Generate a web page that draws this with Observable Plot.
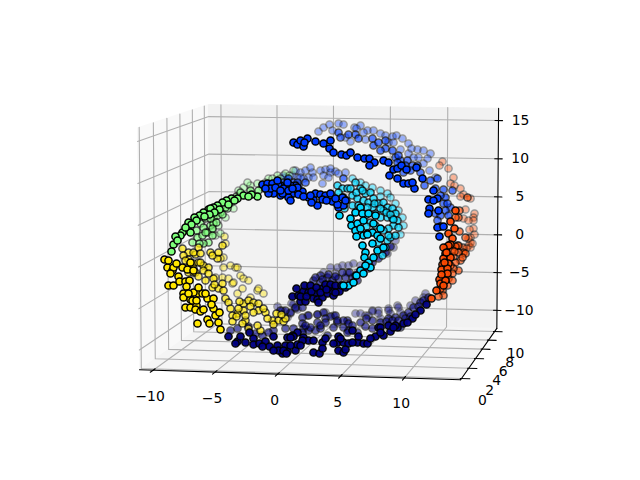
<!DOCTYPE html>
<html><head><meta charset="utf-8">
<style>html,body{margin:0;padding:0;background:#fff}svg{display:block}</style>
<script src="https://cdn.jsdelivr.net/npm/d3@7"></script>
<script src="https://cdn.jsdelivr.net/npm/@observablehq/plot@0.6"></script>
</head><body><div id="c"></div>
<script>
const xTicks=[-10,-5,0,5,10], yTicks=[0,2,4,6,8,10], zTicks=[-10,-5,0,5,10,15];
const xLim=[-11.1,14.4], yLim=[-0.25,10.75], zLim=[-12.4,16.6];
const clusterNames=["band0","band1","band2","band3","band4","band5"];
const clusterColors=["#000080","#003cff","#00d5ff","#7dff7a","#ffe600","#ff4a00"];

// point positions, in view coordinates, grouped by depth along the roll's axis
const orangeFar=[[442,161],[439,165],[448,168],[453,177],[450,183],[454,185],[460,188],[463,194],[470,198],[460,196],[474,213],[473,217],[473,220],[473,228],[469,229],[474,234],[470,237],[465,209],[463,218],[468,220],[470,242],[468,245],[470,247],[463,247],[462,247],[468,238],[472,243],[466,248]];
const orangeMid=[[467,197],[459,210],[458,217],[455,217],[459,231],[465,237],[463,252],[465,253],[457,245],[458,245],[455,246],[460,260],[455,262],[452,250],[458,270],[453,268],[452,273],[448,278],[447,256],[453,256],[458,252],[454,251],[462,257],[450,265],[445,275],[442,290],[447,285],[452,280],[440,288],[443,295],[438,296]];
const orangeNear=[[455,210],[450,221],[454,228],[448,233],[452,238],[446,247],[450,244],[448,245],[443,247],[445,253],[443,258],[442,264],[441,269],[439,279],[440,283],[436,290],[431,298],[450,257],[448,263],[447,268],[447,273],[445,280],[443,285],[441,274],[444,262],[446,252]];
const blueFar=[[323,127],[318,131],[329,124],[338,123],[343,124],[354,127],[360,125],[367,130],[363,132],[332,130],[345,137],[350,141],[365,139],[380,133],[385,135],[392,136],[388,142],[393,142],[402,138],[408,143],[400,149],[408,153],[417,149],[423,150],[430,153],[427,158],[418,157],[413,157],[423,163],[429,170],[435,177],[300,172],[305,170],[312,172],[308,177],[313,177],[320,170],[325,169],[330,172],[335,171],[338,173],[323,175],[328,177],[322,183],[303,178],[297,177],[292,175],[285,177],[283,175],[300,177],[295,170],[310,167],[330,168],[345,172],[356,128],[373,130],[396,135],[411,148]];
const blueMid=[[338,132],[355,134],[358,138],[372,138],[373,145],[385,140],[385,148],[395,157],[400,160],[407,160],[412,165],[417,165],[397,162],[403,172],[430,180],[437,178],[443,189],[435,188],[445,197],[452,190],[443,203],[450,207],[435,213],[445,210],[283,182],[288,178],[293,182],[298,185],[305,182],[343,178],[297,182],[340,137],[348,134],[378,142],[380,150],[392,150],[398,155],[405,165],[410,170],[420,172],[424,185],[440,195],[447,203],[440,215],[448,215],[437,220]];
const blueNear=[[293,142],[297,144],[300,140],[303,146],[307,138],[304,142],[315,141],[323,143],[330,140],[329,148],[333,152],[341,154],[346,155],[350,152],[357,157],[364,158],[369,158],[374,162],[369,165],[383,160],[388,162],[389,175],[393,169],[397,168],[401,165],[397,178],[406,169],[403,183],[408,183],[414,188],[412,182],[416,167],[422,178],[428,199],[433,190],[437,198],[433,200],[429,208],[428,213],[438,210],[440,226],[437,227],[439,236],[443,226],[280,195],[285,193],[289,197],[293,193],[297,190],[302,191],[295,185],[290,185],[285,188],[280,185],[308,197],[313,199],[317,205],[311,202],[315,193],[320,194],[325,195],[330,193],[322,199],[332,201],[338,207],[343,205],[337,204],[342,197],[262,184],[267,183],[273,193],[268,193],[278,185],[283,188],[288,197],[282,193],[297,187],[272,183],[287,182],[277,180],[270,188],[275,187],[280,190],[288,190],[292,188],[298,194],[303,196],[265,188],[290,200],[310,195],[326,200],[335,198],[345,200]];
const cyanFar=[[360,182],[352,178],[365,185],[372,187],[380,190],[387,193],[390,197],[380,196],[395,203],[398,210],[402,217],[403,225],[400,234]];
const cyanMid=[[337,185],[342,188],[347,188],[355,182],[360,188],[365,193],[370,192],[338,192],[343,197],[352,195],[357,198],[363,200],[368,202],[373,198],[378,203],[383,202],[387,207],[392,208],[395,213],[397,220],[393,225],[388,228],[383,210],[380,217],[387,217],[375,213],[392,218],[398,227],[372,207],[367,207],[387,240],[390,237],[395,235],[385,247],[382,255],[350,188],[356,192],[362,190],[374,203],[380,208],[386,212],[390,214],[393,219],[375,225],[383,230],[388,235],[378,242],[370,222],[366,226],[352,205],[346,200],[344,208],[358,205],[365,215]];
const cyanNear=[[339,215],[350,218],[351,225],[357,223],[360,207],[355,212],[362,213],[368,213],[355,230],[360,228],[363,235],[356,236],[367,233],[373,223],[372,232],[377,235],[380,228],[363,220],[375,215],[362,245],[367,234],[365,252],[364,257],[368,262],[373,257],[377,250],[383,247],[380,238],[372,243],[370,267],[365,265],[360,270],[356,275],[348,285],[343,285],[353,282],[363,273]];
const navyFar=[[395,240],[393,247],[387,253],[330,267],[337,267],[342,265],[348,265],[353,263],[360,265],[323,272],[335,273],[347,272],[357,272],[355,313],[360,313],[365,315],[372,310],[378,310],[388,308],[397,305],[390,313],[400,312],[368,315],[380,318],[415,300],[410,305],[425,293],[423,297],[277,306],[282,310],[290,313],[297,309],[307,315],[317,314],[325,312],[333,315],[293,304],[372,311],[378,313],[388,310],[398,307],[291,303],[295,308],[287,317]];
const navyMid=[[327,277],[320,275],[332,280],[338,278],[345,277],[352,277],[313,280],[320,282],[350,283],[357,280],[323,312],[317,314],[330,316],[308,315],[302,317],[290,312],[295,307],[302,307],[285,310],[280,310],[335,315],[325,318],[337,322],[348,330],[343,327],[303,328],[308,330],[315,330],[320,328],[317,322],[325,322],[337,320],[347,320],[302,323],[343,320],[348,323],[372,320],[388,318],[395,317],[403,315],[408,312],[413,307],[420,302],[237,328],[255,333],[273,330],[293,328],[302,332],[310,327],[327,335],[347,332],[357,332],[315,277],[322,279],[328,274],[335,276],[342,272],[349,272],[355,275],[362,270],[368,268],[372,262],[378,258],[385,252],[390,246],[305,290],[365,326],[372,328],[380,322],[386,321],[392,320],[398,320],[405,318],[410,316],[418,306],[423,300],[428,297],[400,327],[230,330],[248,326],[262,335],[268,332],[285,328],[305,325],[320,325],[333,327],[352,325],[360,322],[366,318]];
const navyNear=[[292,296],[298,295],[300,301],[305,301],[303,291],[304,285],[310,285],[313,298],[317,299],[322,297],[327,293],[333,295],[332,290],[339,291],[308,292],[315,292],[322,288],[328,287],[297,332],[292,335],[287,337],[303,337],[308,340],[313,340],[338,336],[337,342],[343,342],[338,350],[343,352],[348,343],[357,342],[363,343],[367,343],[375,336],[383,335],[390,331],[397,327],[403,323],[412,318],[420,310],[426,304],[313,352],[319,353],[322,342],[322,348],[285,345],[287,351],[282,353],[293,336],[340,338],[352,330],[358,336],[228,336],[237,341],[235,343],[240,336],[249,332],[253,338],[253,344],[259,343],[265,341],[269,346],[277,345],[278,350],[283,350],[286,353],[295,350],[297,344],[345,349],[273,336],[290,337],[302,340],[407,322],[415,314],[378,327],[380,327],[395,325],[388,325],[296,288],[300,296],[306,296],[311,291],[316,287],[320,292],[325,284],[330,284],[335,285],[341,285],[345,287],[326,289],[318,302],[335,292],[245,342],[262,346],[273,350],[290,345],[300,345],[325,338],[333,343],[352,342],[370,338],[380,332],[393,327]];
const yellowFar=[[223,257],[230,265],[235,267],[240,275],[243,278],[248,280],[222,277],[228,278],[232,283],[237,293],[242,288],[257,290],[263,293],[250,297],[224,236],[225,243],[220,258],[237,267],[223,267],[215,277],[233,282],[258,288]];
const yellowMid=[[188,252],[195,254],[188,259],[193,263],[198,262],[203,265],[208,267],[210,252],[217,258],[213,278],[212,287],[218,288],[223,290],[225,298],[228,302],[230,308],[237,313],[243,310],[245,320],[232,315],[232,321],[238,308],[243,303],[248,300],[253,302],[258,303],[258,310],[265,312],[263,308],[272,320],[278,320],[283,321],[273,324],[285,318],[260,330],[248,328],[257,325],[245,315],[182,248],[183,255],[193,252],[198,247],[200,253],[185,260],[200,262],[188,267],[193,268],[188,272],[193,272],[203,270],[212,255],[218,252],[222,245],[205,280],[208,273],[214,284],[222,283],[239,301],[236,316],[250,306],[267,318],[276,313],[281,314],[242,323],[253,312],[195,272],[198,276]];
const yellowNear=[[164,259],[167,267],[172,270],[168,285],[173,285],[178,276],[179,281],[185,281],[189,280],[183,293],[183,297],[190,299],[185,307],[190,307],[196,305],[195,309],[200,311],[197,323],[207,319],[209,323],[213,308],[215,315],[218,322],[220,329],[182,267],[187,269],[193,270],[190,262],[198,293],[202,293],[193,292],[198,287],[207,298],[213,298],[203,309],[168,260],[173,267],[176,263],[186,286],[192,300],[188,293],[196,300],[205,293],[211,304],[219,312],[170,273]];
const greenFar=[[230,203],[233,208],[225,217],[218,225],[212,230],[215,235],[220,233],[243,187],[250,185],[257,183],[265,182],[268,178],[277,175],[285,173],[262,187],[293,170],[238,190],[247,182],[272,178],[280,178],[289,175]];
const greenMid=[[227,208],[220,212],[213,217],[205,218],[200,223],[210,225],[203,227],[197,237],[202,235],[192,242],[207,232],[208,242],[203,243],[217,215],[228,203],[212,235],[213,223],[222,214],[216,222],[210,218],[205,232],[196,230],[199,243],[212,228],[225,207],[236,196],[240,192],[250,190],[258,190],[265,188]];
const greenNear=[[257,196],[251,194],[243,195],[237,198],[231,198],[226,200],[222,202],[217,205],[213,207],[208,209],[203,212],[199,215],[194,217],[188,222],[187,229],[182,232],[180,235],[175,236],[173,244],[171,251],[190,232],[210,208],[219,209],[214,212],[209,214],[204,216],[196,220],[191,224],[185,227],[177,240],[228,204],[234,200],[248,196]];

const pointTable=[];
function addPoints(cluster,depth,rows){rows.forEach(([u,v])=>pointTable.push({u,v,cluster:clusterNames[cluster],depth}));}
addPoints(5,9,orangeFar);addPoints(5,5,orangeMid);addPoints(5,1,orangeNear);
addPoints(1,9,blueFar);addPoints(1,5,blueMid);addPoints(1,0,blueNear);
addPoints(3,9,greenFar);addPoints(3,5,greenMid);addPoints(3,0,greenNear);
addPoints(4,8.5,yellowFar);addPoints(4,4.5,yellowMid);addPoints(4,0,yellowNear);
addPoints(0,9,navyFar);addPoints(0,5.5,navyMid);addPoints(0,0.5,navyNear);
addPoints(2,8,cyanFar);addPoints(2,4,cyanMid);addPoints(2,0,cyanNear);
const points=d3.sort(pointTable,d=>-d.depth);

// matplotlib-style view at elevation 7, azimuth -80, box aspect 4:4:3
const el=7*Math.PI/180, az=-80*Math.PI/180, dist=10;
const box=[1.19,1.19,0.893];
const nv=[Math.cos(el)*Math.cos(az),Math.cos(el)*Math.sin(az),Math.sin(el)];
const nn=Math.hypot(nv[1],nv[0]);
const uv=[-nv[1]/nn,nv[0]/nn,0];
const vv=[nv[1]*uv[2]-nv[2]*uv[1],nv[2]*uv[0]-nv[0]*uv[2],nv[0]*uv[1]-nv[1]*uv[0]];
const dot3=(a,b)=>a[0]*b[0]+a[1]*b[1]+a[2]*b[2];
const scaleU=2600, scaleV=2600, cu=326.2, cv=233;
function project(x,y,z){
  const p=[((x-xLim[0])/(xLim[1]-xLim[0])-.5)*box[0],((y-yLim[0])/(yLim[1]-yLim[0])-.5)*box[1],((z-zLim[0])/(zLim[1]-zLim[0])-.5)*box[2]];
  const w=dist-dot3(nv,p);
  return {u:cu+scaleU*dot3(uv,p)/w, v:cv-scaleV*dot3(vv,p)/w};
}
const [x0,x1]=xLim,[y0,y1]=yLim,[z0,z1]=zLim;
function poly(key,pts){return pts.map(([x,y,z],i)=>({key,i,...project(x,y,z)}));}
const paneLeft=poly("l",[[x0,y0,z0],[x0,y1,z0],[x0,y1,z1],[x0,y0,z1],[x0,y0,z0]]);
const paneBack=poly("b",[[x0,y1,z0],[x1,y1,z0],[x1,y1,z1],[x0,y1,z1],[x0,y1,z0]]);
const paneFloor=poly("f",[[x0,y0,z0],[x1,y0,z0],[x1,y1,z0],[x0,y1,z0],[x0,y0,z0]]);
const grid=[
  ...xTicks.flatMap(t=>poly("x"+t,[[t,y0,z0],[t,y1,z0],[t,y1,z1]])),
  ...yTicks.flatMap(t=>poly("y"+t,[[x1,t,z0],[x0,t,z0],[x0,t,z1]])),
  ...zTicks.flatMap(t=>poly("z"+t,[[x1,y1,t],[x0,y1,t],[x0,y0,t]]))
];
const axisLines=[
  ...poly("ax",[[x0,y0,z0],[x1,y0,z0]]),
  ...poly("ay",[[x1,y0,z0],[x1,y1,z0]]),
  ...poly("az",[[x1,y1,z0],[x1,y1,z1]])
];
const tickMarks=[
  ...xTicks.flatMap(t=>poly("tx"+t,[[t,y0+.3,z0],[t,y0-.4,z0]])),
  ...yTicks.flatMap(t=>poly("ty"+t,[[x1-.1,t,z0],[x1+.65,t,z0]])),
  ...zTicks.flatMap(t=>poly("tz"+t,[[x1-.3,y1,t],[x1+.35,y1,t]]))
];
const minus=t=>String(t).replace("-","\u2212");
const xLabels=xTicks.map(t=>({t:minus(t),...project(t,y0,z0)}));
const yLabels=yTicks.map(t=>({t:minus(t),...project(x1,t,z0)}));
const zLabels=zTicks.map(t=>({t:minus(t),...project(x1,y1,t)}));
const lineOpts={x:"u",y:"v",z:"key"};
const font={fontSize:13.9,fontFamily:"DejaVu Sans",fill:"#000",text:"t",x:"u",y:"v",lineAnchor:"middle"};
const chart=Plot.plot({
  width:640,height:480,margin:0,
  x:{domain:[0,640],range:[0,640],axis:null},
  y:{domain:[0,480],range:[0,480],axis:null},
  color:{type:"ordinal",domain:clusterNames,range:clusterColors},
  opacity:{type:"linear",domain:[0,10],range:[1,.3]},
  style:{background:"#fff"},
  marks:[
    Plot.line(paneLeft,{...lineOpts,fill:"#f9f9f9",stroke:"#f9f9f9",strokeWidth:1,curve:"linear"}),
    Plot.line(paneBack,{...lineOpts,fill:"#f2f2f2",stroke:"#f2f2f2",strokeWidth:1,curve:"linear"}),
    Plot.line(paneFloor,{...lineOpts,fill:"#f5f5f5",stroke:"#f5f5f5",strokeWidth:1,curve:"linear"}),
    Plot.line(grid,{...lineOpts,stroke:"#b0b0b0",strokeWidth:1.1,curve:"linear"}),
    Plot.line(axisLines,{...lineOpts,stroke:"#000",strokeWidth:1.1,curve:"linear"}),
    Plot.line(tickMarks,{...lineOpts,stroke:"#000",strokeWidth:1.1,curve:"linear"}),
    Plot.text(xLabels,{...font,dx:-3,dy:26}),
    Plot.text(yLabels,{...font,dx:21,dy:22}),
    Plot.text(zLabels,{...font,dx:22}),
    Plot.dot(points,{x:"u",y:"v",r:3.6,fill:"cluster",stroke:"#000",strokeWidth:1.5,opacity:"depth"})
  ]
});
document.getElementById("c").appendChild(chart);
</script></body></html>
